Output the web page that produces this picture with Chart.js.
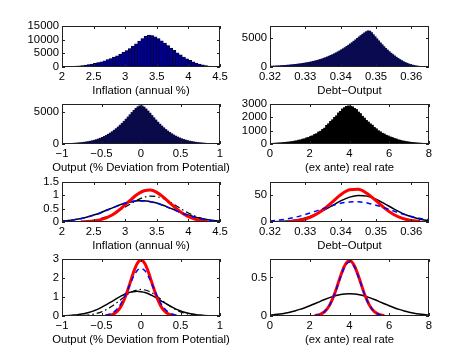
<!DOCTYPE html>
<html><head><meta charset="utf-8">
<script src="https://cdn.jsdelivr.net/npm/chart.js@4"></script>
<style>
html,body{margin:0;padding:0;background:#fff;}
body{width:474px;height:355px;position:relative;overflow:hidden;}
canvas{position:absolute;}
</style></head><body>
<canvas id="p1"></canvas><canvas id="p2"></canvas><canvas id="p3"></canvas><canvas id="p4"></canvas>
<canvas id="p5"></canvas><canvas id="p6"></canvas><canvas id="p7"></canvas><canvas id="p8"></canvas>
<script>
// ---------- axis labels ----------
const titleInfl = 'Inflation (annual %)';
const titleDebt = 'Debt\u2212Output';
const titleOut = 'Output (% Deviation from Potential)';
const titleRate = '(ex ante) real rate';

// ---------- tick values ----------
const xTicksInfl = [2, 2.5, 3, 3.5, 4, 4.5];
const xTicksDebt = [0.32, 0.33, 0.34, 0.35, 0.36];
const xTicksOut = [-1, -0.5, 0, 0.5, 1];
const xTicksRate = [0, 2, 4, 6, 8];
const yTicksH1 = [0, 5000, 10000, 15000];
const yTicksH2 = [0, 5000];
const yTicksH3 = [0, 5000];
const yTicksH4 = [0, 1000, 2000, 3000];
const yTicksD1 = [0, 0.5, 1, 1.5];
const yTicksD2 = [0, 50];
const yTicksD3 = [0, 1, 2, 3];
const yTicksD4 = [0, 0.5];

// ---------- histograms ----------
const inflCenters = [2.025,2.075,2.125,2.175,2.225,2.275,2.325,2.375,2.425,2.475,2.525,2.575,2.625,2.675,2.725,2.775,2.825,2.875,2.925,2.975,3.025,3.075,3.125,3.175,3.225,3.275,3.325,3.375,3.425,3.475,3.525,3.575,3.625,3.675,3.725,3.775,3.825,3.875,3.925,3.975,4.025,4.075,4.125,4.175,4.225,4.275,4.325,4.375,4.425,4.475];
const inflCounts = [60,100,150,210,290,380,500,640,810,1010,1250,1530,1850,2210,2610,3050,3530,4060,4640,5260,5900,6700,7550,8450,9400,10350,11150,11600,11450,10950,10300,9550,8700,7800,6900,6000,5150,4350,3600,2950,2350,1820,1380,1010,720,490,320,195,105,45];

const debtCenters = [0.32025,0.32075,0.32125,0.32175,0.32225,0.32275,0.32325,0.32375,0.32425,0.32475,0.32525,0.32575,0.32625,0.32675,0.32725,0.32775,0.32825,0.32875,0.32925,0.32975,0.33025,0.33075,0.33125,0.33175,0.33225,0.33275,0.33325,0.33375,0.33425,0.33475,0.33525,0.33575,0.33625,0.33675,0.33725,0.33775,0.33825,0.33875,0.33925,0.33975,0.34025,0.34075,0.34125,0.34175,0.34225,0.34275,0.34325,0.34375,0.34425,0.34475,0.34525,0.34575,0.34625,0.34675,0.34725,0.34775,0.34825,0.34875,0.34925,0.34975,0.35025,0.35075,0.35125,0.35175,0.35225,0.35275,0.35325,0.35375,0.35425,0.35475,0.35525,0.35575,0.35625,0.35675,0.35725,0.35775,0.35825,0.35875,0.35925,0.35975,0.36025,0.36075,0.36125,0.36175,0.36225,0.36275,0.36325,0.36375,0.36425,0.36475];
const debtCounts = [110,125,140,155,170,190,210,230,250,275,300,330,360,390,425,460,500,540,590,635,690,740,800,860,935,1010,1090,1170,1260,1360,1470,1580,1700,1830,1960,2100,2250,2400,2570,2740,2920,3100,3290,3490,3700,3920,4140,4380,4620,4870,5120,5350,5580,5800,6000,6150,6100,5850,5500,5150,4800,4450,4100,3780,3450,3150,2870,2600,2340,2100,1870,1650,1440,1250,1070,900,750,620,500,400,310,240,180,130,95,65,45,30,18,10];

const outCenters = [-0.9875,-0.9625,-0.9375,-0.9125,-0.8875,-0.8625,-0.8375,-0.8125,-0.7875,-0.7625,-0.7375,-0.7125,-0.6875,-0.6625,-0.6375,-0.6125,-0.5875,-0.5625,-0.5375,-0.5125,-0.4875,-0.4625,-0.4375,-0.4125,-0.3875,-0.3625,-0.3375,-0.3125,-0.2875,-0.2625,-0.2375,-0.2125,-0.1875,-0.1625,-0.1375,-0.1125,-0.0875,-0.0625,-0.0375,-0.0125,0.0125,0.0375,0.0625,0.0875,0.1125,0.1375,0.1625,0.1875,0.2125,0.2375,0.2625,0.2875,0.3125,0.3375,0.3625,0.3875,0.4125,0.4375,0.4625,0.4875,0.5125,0.5375,0.5625,0.5875,0.6125,0.6375,0.6625,0.6875,0.7125,0.7375,0.7625,0.7875,0.8125,0.8375,0.8625,0.8875,0.9125,0.9375,0.9625,0.9875];
const outCounts = [27,35,45,56,70,86,105,128,155,185,220,260,305,360,420,490,570,660,760,880,1010,1150,1310,1490,1680,1890,2120,2360,2620,2900,3190,3500,3830,4170,4520,4870,5200,5500,5750,5900,5880,5700,5420,5100,4760,4400,4050,3700,3370,3060,2770,2490,2230,1990,1770,1570,1380,1210,1060,920,800,690,590,505,430,365,310,260,218,182,150,123,100,81,65,52,41,32,25,19];

const rateCenters = [0.05,0.15,0.25,0.35,0.45,0.55,0.65,0.75,0.85,0.95,1.05,1.15,1.25,1.35,1.45,1.55,1.65,1.75,1.85,1.95,2.05,2.15,2.25,2.35,2.45,2.55,2.65,2.75,2.85,2.95,3.05,3.15,3.25,3.35,3.45,3.55,3.65,3.75,3.85,3.95,4.05,4.15,4.25,4.35,4.45,4.55,4.65,4.75,4.85,4.95,5.05,5.15,5.25,5.35,5.45,5.55,5.65,5.75,5.85,5.95,6.05,6.15,6.25,6.35,6.45,6.55,6.65,6.75,6.85,6.95,7.05,7.15,7.25,7.35,7.45,7.55,7.65,7.75,7.85,7.95];
const rateCounts = [38,42,52,58,72,79,96,105,125,136,163,178,212,230,280,300,355,385,455,485,570,610,715,765,890,950,1090,1180,1390,1510,1690,1810,1990,2110,2320,2440,2620,2720,2810,2850,2820,2780,2660,2580,2390,2270,2070,1930,1760,1640,1500,1400,1230,1130,990,910,800,740,645,595,520,480,410,370,305,275,225,205,168,152,122,108,90,80,64,56,43,37,28,22];

// ---------- densities: inflation ----------
const dInflX = [2.0,2.1,2.2,2.3,2.4,2.5,2.6,2.7,2.8,2.9,3.0,3.1,3.2,3.3,3.4,3.5,3.6,3.7,3.8,3.9,4.0,4.1,4.2,4.3,4.4,4.5];
const dInflRed = [null,null,null,0.007,0.017,0.039,0.081,0.156,0.27,0.44,0.65,0.86,1.05,1.17,1.2,1.11,0.94,0.73,0.52,0.34,0.2,0.107,0.053,0.024,null,null];
const dInflBlack = [0.035,0.057,0.089,0.13,0.19,0.26,0.34,0.44,0.53,0.63,0.71,0.76,0.8,0.8,0.76,0.71,0.63,0.53,0.44,0.34,0.26,0.19,0.13,0.089,0.057,0.035];
const dInflDashDot = [null,null,null,null,0.038,0.069,0.12,0.19,0.29,0.42,0.56,0.70,0.83,0.93,0.97,0.95,0.88,0.76,0.62,0.47,0.34,0.23,0.145,0.086,0.048,0.025];
const dInflBlue = [0.03,0.05,0.085,0.125,0.18,0.25,0.33,0.43,0.52,0.62,0.70,0.76,0.79,0.79,0.76,0.70,0.62,0.52,0.43,0.33,0.25,0.18,0.125,0.085,0.05,0.03];

// ---------- densities: debt-output ----------
const dDebtX = [0.32,0.3225,0.325,0.3275,0.33,0.3325,0.335,0.3375,0.34,0.3425,0.345,0.3475,0.35,0.3525,0.355,0.3575,0.36,0.3625,0.365];
const dDebtRed = [null,null,0.75,2.2,5.7,12.3,23,36.8,51,60.3,61.3,53.4,39.9,25.6,14.1,6.7,2.7,0.95,null];
const dDebtBlack = [0.31,0.8,1.9,4.0,7.6,13.4,21.2,30.3,39.5,46.6,49.9,48.5,42.7,34.1,24.7,16.2,9.7,5.2,2.6];
const dDebtBlue = [2.0,3.6,6.0,9.5,14.1,19.4,25.1,30.6,35.1,37.6,37.8,35.7,31.5,26.3,20.5,15.1,10.3,6.6,4.0];

// ---------- densities: output ----------
const dOutX = [-1,-0.95,-0.9,-0.85,-0.8,-0.75,-0.7,-0.65,-0.6,-0.55,-0.5,-0.45,-0.4,-0.35,-0.3,-0.25,-0.2,-0.15,-0.1,-0.05,0,0.05,0.1,0.15,0.2,0.25,0.3,0.35,0.4,0.45,0.5,0.55,0.6,0.65,0.7,0.75,0.8,0.85,0.9,0.95,1];
const dOutRed = [null,null,null,null,null,null,null,null,null,null,null,0.011,0.037,0.10,0.25,0.53,0.985,1.59,2.24,2.75,2.95,2.75,2.24,1.59,0.985,0.53,0.25,0.10,0.037,0.011,null,null,null,null,null,null,null,null,null,null,null];
const dOutBlue = [null,null,null,null,null,null,null,null,null,null,null,0.037,0.09,0.195,0.385,0.68,1.09,1.56,2.03,2.38,2.5,2.38,2.03,1.56,1.09,0.68,0.385,0.195,0.09,0.037,null,null,null,null,null,null,null,null,null,null,null];
const dOutBlack = [0.012,0.019,0.030,0.047,0.069,0.10,0.144,0.20,0.27,0.35,0.455,0.57,0.69,0.81,0.94,1.06,1.16,1.24,1.28,1.3,1.28,1.24,1.16,1.06,0.94,0.81,0.69,0.57,0.455,0.35,0.27,0.20,0.144,0.10,0.069,0.047,0.030,0.019,0.012,0.007,0.004];
const dOutDashDot = [null,null,0.003,0.006,0.012,0.022,0.038,0.061,0.097,0.15,0.22,0.31,0.43,0.565,0.72,0.88,1.04,1.19,1.30,1.37,1.4,1.37,1.30,1.19,1.04,0.88,0.72,0.565,0.43,0.31,0.22,0.15,0.097,0.061,0.038,0.022,0.012,0.006,0.003,null,null];

// ---------- densities: real rate ----------
const dRateX = [0,0.25,0.5,0.75,1,1.25,1.5,1.75,2,2.25,2.5,2.75,3,3.25,3.5,3.75,4,4.25,4.5,4.75,5,5.25,5.5,5.75,6,6.25,6.5,6.75,7,7.25,7.5,7.75,8];
const dRateRed = [null,null,null,null,null,null,null,null,null,0.005,0.0185,0.056,0.141,0.288,0.48,0.65,0.72,0.65,0.48,0.288,0.141,0.056,0.0185,0.005,null,null,null,null,null,null,null,null,null];
const dRateBlue = [null,null,null,null,null,null,null,null,null,0.005,0.019,0.058,0.142,0.285,0.47,0.634,0.70,0.634,0.47,0.285,0.142,0.058,0.019,0.005,null,null,null,null,null,null,null,null,null];
const dRateBlack = [0.0127,0.0186,0.0265,0.0369,0.050,0.066,0.0856,0.108,0.133,0.159,0.187,0.214,0.239,0.26,0.276,0.2865,0.29,0.2865,0.276,0.26,0.239,0.214,0.187,0.159,0.133,0.108,0.0856,0.066,0.050,0.0369,0.0265,0.0186,0.0127];

// ---------- layout ----------
const FONT = {family: '"Liberation Sans", Arial, Helvetica, sans-serif', size: 11.3};
const FONTSTR = '11.3px "Liberation Sans", Arial, Helvetica, sans-serif';
const YW = 60, PT = 8, PR = 14, XH = 34;
const fmt = v => String(v).replace('-', '\u2212');

const boxPlugin = {
  id: 'matlabBox',
  afterDatasetsDraw(chart, args, opts) {
    const {ctx, chartArea: a, scales} = chart;
    ctx.save();
    ctx.strokeStyle = '#222';
    ctx.lineWidth = 1;
    ctx.strokeRect(a.left + 0.5, a.top + 0.5, a.right - a.left - 1, a.bottom - a.top - 1);
    const tl = 3;
    ctx.beginPath();
    scales.x.ticks.forEach(t => {
      const p = Math.round(scales.x.getPixelForValue(t.value)) + 0.5;
      ctx.moveTo(p, a.bottom); ctx.lineTo(p, a.bottom - tl);
      ctx.moveTo(p, a.top); ctx.lineTo(p, a.top + tl);
    });
    scales.y.ticks.forEach(t => {
      const p = Math.round(scales.y.getPixelForValue(t.value)) + 0.5;
      ctx.moveTo(a.left, p); ctx.lineTo(a.left + tl, p);
      ctx.moveTo(a.right, p); ctx.lineTo(a.right - tl, p);
    });
    ctx.stroke();
    if (opts && opts.text) {
      ctx.fillStyle = '#000';
      ctx.font = FONTSTR;
      ctx.textAlign = 'center';
      ctx.textBaseline = 'middle';
      ctx.fillText(opts.text, (a.left + a.right) / 2, a.bottom + 23.5);
    }
    ctx.restore();
  }
};

function pts(xs, ys) { return xs.map((x, i) => ({x: x, y: ys[i]})); }

function bars(xs, ys, fill, border, bw) {
  return {data: pts(xs, ys), backgroundColor: fill, borderColor: border, borderWidth: bw,
    barPercentage: 1, categoryPercentage: 1, grouped: false, borderSkipped: false, inflateAmount: 0.5};
}
function line(xs, ys, color, width, dash) {
  return {type: 'line', data: pts(xs, ys), borderColor: color, borderWidth: width, borderDash: dash || [],
    pointRadius: 0, fill: false, spanGaps: false, cubicInterpolationMode: 'monotone'};
}

function panel(id, L, T, W, H, type, datasets, xr, yr, xTicks, yTicks, title) {
  const cv = document.getElementById(id);
  const cw = W + YW + PR, ch = H + PT + XH;
  cv.width = cw; cv.height = ch;
  cv.style.left = (L - YW) + 'px'; cv.style.top = (T - PT) + 'px';
  cv.style.width = cw + 'px'; cv.style.height = ch + 'px';
  new Chart(cv, {
    type: type,
    data: {datasets: datasets},
    options: {
      responsive: false, animation: false, devicePixelRatio: 1,
      layout: {padding: {top: PT, right: PR, left: 0, bottom: 0}},
      plugins: {legend: {display: false}, tooltip: {enabled: false}, matlabBox: {text: title}},
      scales: {
        x: {type: 'linear', min: xr[0], max: xr[1], offset: false,
          grid: {display: false, drawTicks: false, offset: false}, border: {display: false},
          ticks: {font: FONT, color: '#000', padding: 3, maxRotation: 0, autoSkip: false, callback: v => fmt(v)},
          afterBuildTicks: s => { s.ticks = xTicks.map(v => ({value: v})); },
          afterFit: s => { s.height = XH; s.paddingLeft = 0; s.paddingRight = 0; }
        },
        y: {type: 'linear', min: yr[0], max: yr[1],
          grid: {display: false, drawTicks: false}, border: {display: false},
          ticks: {font: FONT, color: '#000', padding: 3, autoSkip: false, callback: v => fmt(v)},
          afterBuildTicks: s => { s.ticks = yTicks.map(v => ({value: v})); },
          afterFit: s => { s.width = YW; s.paddingTop = 0; s.paddingBottom = 0; }
        }
      }
    },
    plugins: [boxPlugin]
  });
}

const LX = 62, LW = 158, RX = 270, RW = 159;

panel('p1', LX, 26, LW, 41, 'bar', [bars(inflCenters, inflCounts, '#00008c', '#000000', 0.5)],
  [2, 4.5], [0, 15000], xTicksInfl, yTicksH1, titleInfl);
panel('p2', RX, 26, RW, 41, 'bar', [bars(debtCenters, debtCounts, '#0a0a50', '#0a0a50', 0)],
  [0.32, 0.365], [0, 7000], xTicksDebt, yTicksH2, titleDebt);
panel('p3', LX, 104, LW, 40, 'bar', [bars(outCenters, outCounts, '#0a0a4a', '#0a0a4a', 0)],
  [-1, 1], [0, 6200], xTicksOut, yTicksH3, titleOut);
panel('p4', RX, 104, RW, 40, 'bar', [bars(rateCenters, rateCounts, '#000000', '#000000', 0)],
  [0, 8], [0, 3000], xTicksRate, yTicksH4, titleRate);

panel('p5', LX, 182, LW, 40, 'line', [
  line(dInflX, dInflBlue, '#0000ff', 1.5, [5, 4]),
  line(dInflX, dInflRed, '#ff0000', 3),
  line(dInflX, dInflDashDot, '#000000', 1.2, [6, 3, 1.5, 3]),
  line(dInflX, dInflBlack, '#000000', 1.5)
], [2, 4.5], [0, 1.5], xTicksInfl, yTicksD1, titleInfl);

panel('p6', RX, 182, RW, 40, 'line', [
  line(dDebtX, dDebtBlue, '#0000ff', 1.5, [5, 4]),
  line(dDebtX, dDebtRed, '#ff0000', 3),
  line(dDebtX, dDebtBlack, '#000000', 1.5)
], [0.32, 0.365], [0, 75], xTicksDebt, yTicksD2, titleDebt);

panel('p7', LX, 259, LW, 57, 'line', [
  line(dOutX, dOutBlue, '#0000ff', 1.5, [5, 4]),
  line(dOutX, dOutRed, '#ff0000', 3),
  line(dOutX, dOutDashDot, '#000000', 1.2, [6, 3, 1.5, 3]),
  line(dOutX, dOutBlack, '#000000', 1.5)
], [-1, 1], [0, 3], xTicksOut, yTicksD3, titleOut);

panel('p8', RX, 259, RW, 57, 'line', [
  line(dRateX, dRateBlue, '#0000ff', 1.5, [5, 4]),
  line(dRateX, dRateRed, '#ff0000', 3),
  line(dRateX, dRateBlack, '#000000', 1.5)
], [0, 8], [0, 0.74], xTicksRate, yTicksD4, titleRate);
</script>
</body></html>
